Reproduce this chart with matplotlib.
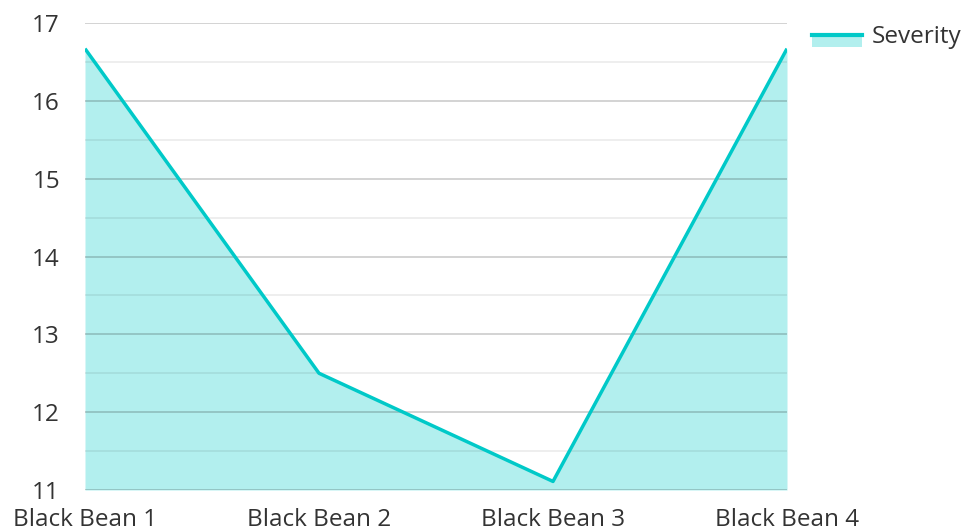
import matplotlib
matplotlib.use("Agg")
import matplotlib.pyplot as plt
from matplotlib.patches import Rectangle
from matplotlib.lines import Line2D

plt.rcParams['font.family'] = ['Open Sans', 'DejaVu Sans']

categories = ["Black Bean 1", "Black Bean 2", "Black Bean 3", "Black Bean 4"]
severity = [16.67, 12.5, 11.11, 16.67]
series_name = "Severity"

line_color = "#00c9c8"
fill_color = "#b2efee"
text_color = "#333333"
font_size = 17.5

fig = plt.figure(figsize=(9.66, 5.31), dpi=100)
ax = fig.add_axes([85 / 966, 1 - 490 / 531, (787 - 85) / 966, (490 - 23) / 531])

x = list(range(len(categories)))
ax.fill_between(x, severity, 11, color=fill_color, linewidth=0, zorder=1)
ax.plot(x, severity, color=line_color, linewidth=2.5, zorder=3, solid_capstyle='butt')

ax.set_xlim(0, len(categories) - 1)
ax.set_ylim(11, 17)

ax.set_yticks(range(11, 18))
ax.set_yticks([v + 0.5 for v in range(11, 17)], minor=True)
ax.grid(True, which='major', axis='y', color='#000000', alpha=0.2, linewidth=1.2, zorder=2)
ax.grid(True, which='minor', axis='y', color='#000000', alpha=0.08, linewidth=1.2, zorder=2)
ax.set_axisbelow(False)

ax.set_xticks(x)
ax.set_xticklabels(categories)
for s in ax.spines.values():
    s.set_visible(False)
ax.tick_params(axis='both', which='both', length=0, labelsize=font_size, colors=text_color)
ax.tick_params(axis='y', pad=18)
ax.tick_params(axis='x', pad=13)

# legend swatch: fill block with the series line on top
lx0, lx1 = 812 / 966, 862 / 966
fig.patches.append(Rectangle((lx0, 1 - 47 / 531), lx1 - lx0, 11 / 531,
                             transform=fig.transFigure, facecolor=fill_color,
                             edgecolor='none'))
fig.lines.append(Line2D([lx0, lx1], [1 - 35 / 531, 1 - 35 / 531],
                        transform=fig.transFigure, color=line_color, linewidth=3))
fig.text(872 / 966, 1 - 37 / 531, series_name, ha='left', va='center',
         fontsize=font_size, color=text_color)

fig.savefig("out.png", dpi=100)
